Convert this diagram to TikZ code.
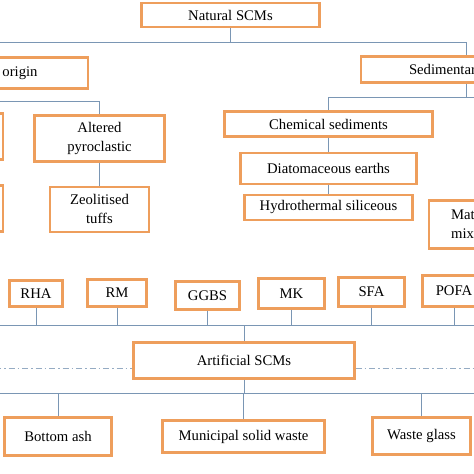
\documentclass[tikz,border=0pt]{standalone}
\usepackage{fontspec}
\setmainfont{Liberation Serif}
\usetikzlibrary{positioning}
\definecolor{boxorange}{RGB}{238,158,92}
\definecolor{linkblue}{RGB}{122,150,180}
\tikzset{
    scm/.style={draw=boxorange, line width=2.2pt, fill=white, inner sep=0pt, align=center, font=\fontsize{14.7}{19}\selectfont},
    link/.style={draw=linkblue, line width=0.9pt},
    divider/.style={draw=linkblue!80, line width=0.8pt, dash pattern=on 6pt off 3pt on 1.5pt off 3pt}
}

\begin{document}
\begin{tikzpicture}[x=1pt, y=-1pt]
    \useasboundingbox (0,0) rectangle (474,474);
    \clip (0,0) rectangle (474,474);

    % natural SCMs
    \node[scm, minimum width=178, minimum height=24]  (nat)   at (230.5,15)   {Natural SCMs};
    \node[scm, minimum width=136, minimum height=31]  (volc)  at (20,73)      {origin};
    \node[scm, minimum width=163, minimum height=26]  (sed)   at (442.5,69.5) {Sedimentar};
    \node[scm, minimum width=40, minimum height=46]   (lefta) at (-17,136.5)  {};
    \node[scm, minimum width=130, minimum height=46]  (alt)   at (99.5,138.5) {Altered\\pyroclastic};
    \node[scm, minimum width=99, minimum height=45]   (zeo)   [below=23pt of alt]   {Zeolitised\\tuffs};
    \node[scm, minimum width=40, minimum height=46]   (leftb) at (-17,208.5)  {};
    \node[scm, minimum width=208, minimum height=25]  (chem)  at (328.5,124)  {Chemical sediments};
    \node[scm, minimum width=176, minimum height=31]  (diat)  [below=14pt of chem]  {Diatomaceous earths};
    \node[scm, minimum width=168, minimum height=25]  (hydro) [below=9pt of diat]   {Hydrothermal siliceous};
    \node[scm, anchor=west, text width=40pt, inner xsep=22pt, minimum height=48, align=left] (mix) at (428,224.5) {Mat\\mix};

    % artificial SCMs
    \node[scm, minimum width=53, minimum height=26]   (rha)    at (36,293.5)    {RHA};
    \node[scm, minimum width=59, minimum height=27]   (rm)     at (117,293)     {RM};
    \node[scm, minimum width=64, minimum height=28]   (ggbs)   at (207.5,295.5) {GGBS};
    \node[scm, minimum width=66, minimum height=30]   (mk)     at (291.5,293.5) {MK};
    \node[scm, minimum width=66, minimum height=29]   (sfa)    at (371.5,292)   {SFA};
    \node[scm, minimum width=63, minimum height=31]   (pofa)   at (454,291)     {POFA};
    \node[scm, minimum width=221, minimum height=36]  (art)    at (244,360.5)   {Artificial SCMs};
    \node[scm, minimum width=107, minimum height=38]  (bash)   at (58,436.5)    {Bottom ash};
    \node[scm, minimum width=162, minimum height=32]  (msw)    at (243.5,436.5) {Municipal solid waste};
    \node[scm, minimum width=98, minimum height=37]   (wglass) at (421.5,436)   {Waste glass};

    % tree lines, natural side
    \coordinate (natbar)  at (-5,42);
    \coordinate (volcbar) at (-5,101);
    \coordinate (sedbar)  at (480,97);
    \draw[link] (nat.south) -- (nat.south |- natbar);
    \draw[link] (natbar) -| ([xshift=23.5pt]sed.north);
    \draw[link] (volcbar) -| (alt.north);
    \draw[link] (alt.south) -- (zeo.north);
    \draw[link] ([xshift=23.5pt]sed.south) -- ([xshift=23.5pt]sed.south |- sedbar);
    \draw[link] (sedbar) -| (chem.north);
    \draw[link] (chem.south) -- (diat.north);
    \draw[link] (diat.south) -- (hydro.north);

    % tree lines, artificial side
    \coordinate (topbarL) at (-5,325);
    \coordinate (topbarR) at (480,325);
    \coordinate (botbarL) at (-5,393);
    \coordinate (botbarR) at (480,393);
    \draw[link] (topbarL) -- (topbarR);
    \foreach \n in {rha,rm,ggbs,mk,sfa,pofa}
        \draw[link] (\n.south) -- (\n.south |- topbarL);
    \draw[link] (art.north |- topbarL) -- (art.north);
    \draw[link] (botbarL) -- (botbarR);
    \draw[link] (art.south) -- (art.south |- botbarL);
    \foreach \n in {bash,msw,wglass}
        \draw[link] (\n.north |- botbarL) -- (\n.north);

    % dash-dot divider
    \coordinate (divL) at (-5,368);
    \coordinate (divR) at (480,368);
    \draw[divider] (divL) -- (divL -| art.west);
    \draw[divider] (divR -| art.east) -- (divR);
\end{tikzpicture}
\end{document}
